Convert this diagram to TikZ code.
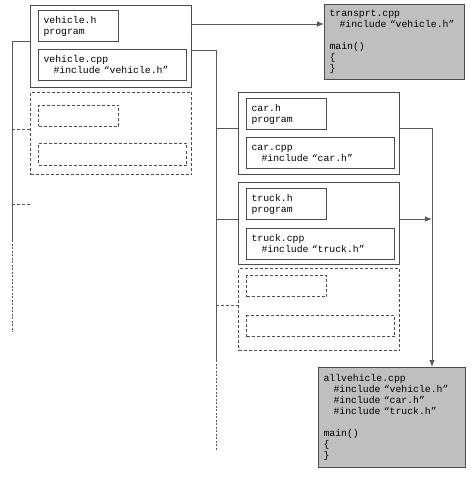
\documentclass[tikz,border=0pt]{standalone}
\usepackage{fontspec}
\setmonofont{Liberation Mono}
\usepackage{tikz}
\usetikzlibrary{arrows.meta}
\newcommand{\ind}{\hspace*{10pt}}
\tikzstyle{box}=[draw=black!70, line width=1pt, rectangle, anchor=north west, align=left, inner xsep=5pt, inner ysep=1pt, font=\ttfamily\fontsize{9.8}{11}\selectfont]
\tikzstyle{ghost}=[box, dash pattern=on 3pt off 2pt]
\tikzstyle{mainfile}=[box, fill=black!25]
\tikzstyle{outer}=[minimum width=161pt, minimum height=82pt]
\tikzstyle{hfile}=[text width=70pt, minimum height=31pt]
\tikzstyle{cppfile}=[text width=138pt, minimum height=31pt]
\tikzstyle{link}=[draw=black!65, line width=0.9pt]
\tikzstyle{connect}=[link, -{Latex[length=7pt,width=5.5pt]}]
\tikzstyle{branch}=[link, dash pattern=on 3pt off 2pt]
\tikzstyle{more}=[link, dash pattern=on 2pt off 1.5pt]

\begin{document}
\begin{tikzpicture}[x=1pt, y=-1pt]
  \useasboundingbox (0,0) rectangle (474,481);

  % vehicle module
  \node [box, outer] (vbox) at (30,5) {};
  \node [box, hfile] (vh) at (38,10) {vehicle.h\\program};
  \node [box, cppfile] (vcpp) at (38,49) {vehicle.cpp\\\ind\#include “vehicle.h”};

  % empty module under vehicle
  \node [ghost, outer] (dbox1) at (30,92) {};
  \node [ghost, hfile, minimum height=21pt] (dh1) at (38,105) {};
  \node [ghost, cppfile, minimum height=22pt] (dcpp1) at (38,143) {};

  % car module
  \node [box, outer] (carbox) at (238,92) {};
  \node [box, hfile] (carh) at (246,98) {car.h\\program};
  \node [box, cppfile] (carcpp) at (246,137) {car.cpp\\\ind\#include “car.h”};

  % truck module
  \node [box, outer] (truckbox) at (238,182) {};
  \node [box, hfile] (truckh) at (246,188) {truck.h\\program};
  \node [box, cppfile] (truckcpp) at (246,228) {truck.cpp\\\ind\#include “truck.h”};

  % empty module under truck
  \node [ghost, outer] (dbox2) at (238,268) {};
  \node [ghost, hfile, minimum height=21pt] (dh2) at (246,275) {};
  \node [ghost, cppfile, minimum height=21pt] (dcpp2) at (246,315) {};

  % main programs
  \node [mainfile, text width=130pt, minimum height=75pt] (transprt) at (324,4)
        {transprt.cpp\\\ind\#include “vehicle.h”\\[11pt]main()\\\{\\\}};
  \node [mainfile, text width=137pt, minimum height=100pt] (allv) at (318,367)
        {allvehicle.cpp\\\ind\#include “vehicle.h”\\\ind\#include “car.h”\\
         \ind\#include “truck.h”\\[11pt]main()\\\{\\\}};

  % first trunk
  \coordinate (t1top) at (12,41);
  \coordinate (t1mid) at (12,240);
  \coordinate (t1end) at (12,332);
  \draw [link] (t1top -| vbox.west) -- (t1top) -- (t1mid);
  \draw [more] (t1mid) -- (t1end);
  \draw [branch] (12,129) -- (12,129 -| dbox1.west);
  \draw [branch] (12,204) -- (30,204);

  % second trunk
  \coordinate (t2top) at (216,50);
  \coordinate (t2mid) at (216,360);
  \coordinate (t2end) at (216,451);
  \draw [link] (t2top -| vbox.east) -- (t2top) -- (t2mid);
  \draw [more] (t2mid) -- (t2end);
  \draw [link] (216,128) -- (216,128 -| carbox.west);
  \draw [link] (216,219) -- (216,219 -| truckbox.west);
  \draw [branch] (216,305) -- (216,305 -| dbox2.west);

  % connections
  \coordinate (vout) at (191,24);
  \draw [connect] (vout) -- (vout -| transprt.west);
  \coordinate (cout) at (432,128);
  \draw [connect] (cout -| carbox.east) -- (cout) -- (cout |- allv.north);
  \draw [connect] (truckbox.east |- 0,219) -- (432,219);

\end{tikzpicture}
\end{document}
